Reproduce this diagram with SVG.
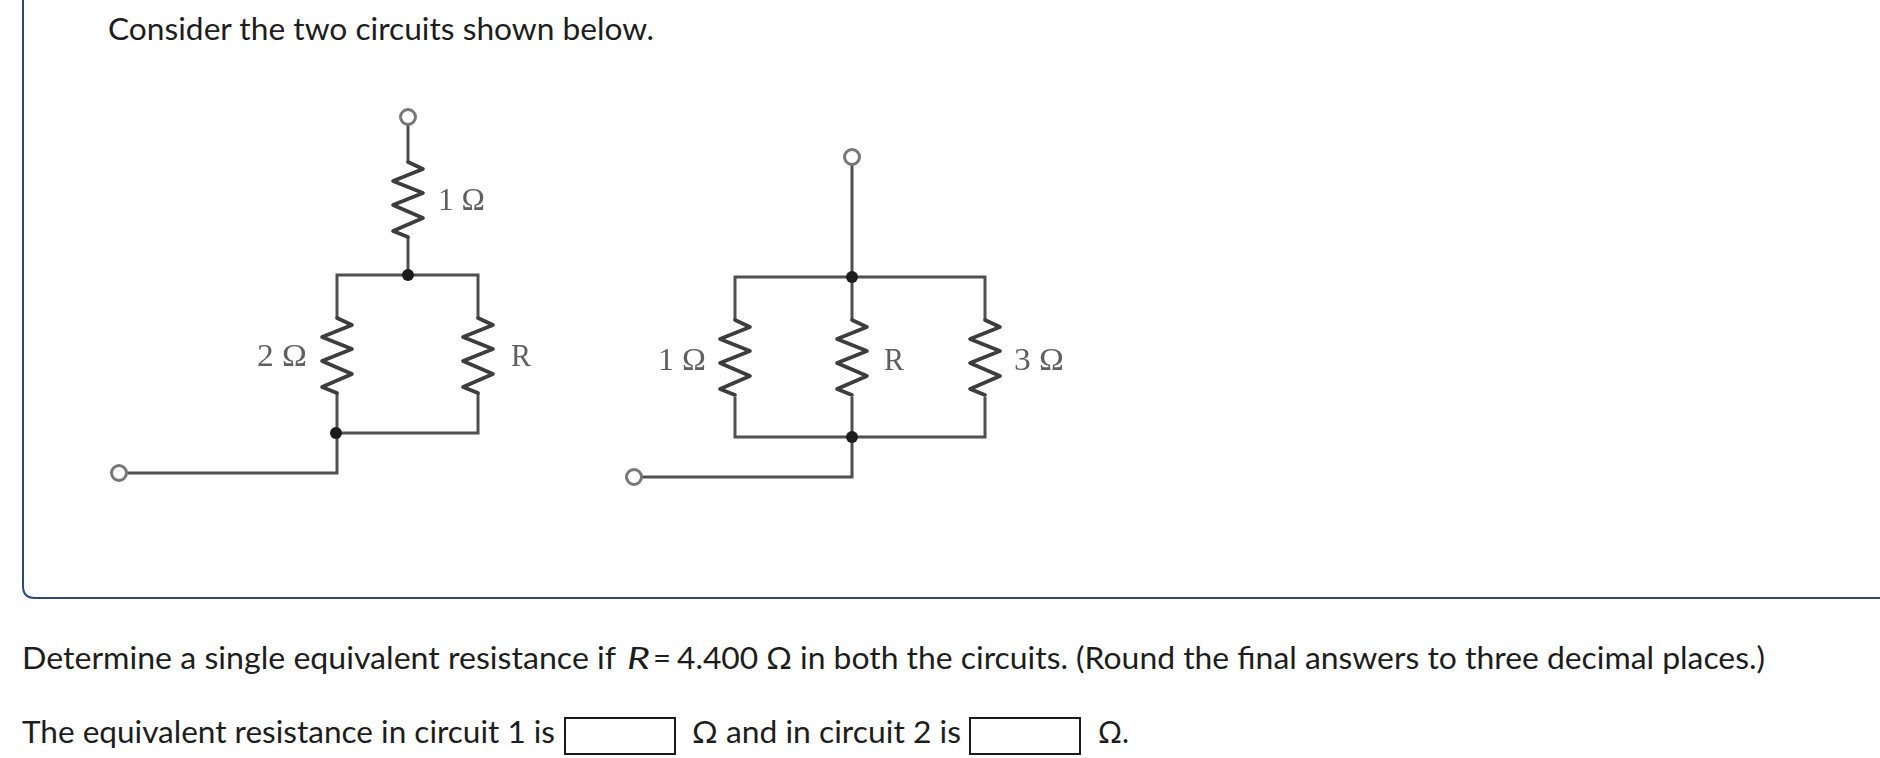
<svg xmlns="http://www.w3.org/2000/svg" width="1880" height="758" viewBox="0 0 1880 758">
<style>
.t{font-family:"Lato","Liberation Sans",sans-serif;font-size:30px;fill:#1d1d1d}
.l{font-family:"Liberation Serif",serif;font-size:31px;fill:#5f5f5f}
.w{fill:none;stroke:#505050;stroke-width:3;stroke-linejoin:miter}
.z{fill:none;stroke:#3c3c3c;stroke-width:3.6;stroke-linejoin:round;stroke-linecap:round}
.term{fill:#fff;stroke:#777;stroke-width:3}
.dot{fill:#1c1c1c}
.box{fill:#fff;stroke:#1a1a1a;stroke-width:2}
</style>
<defs>
<filter id="soft" x="-5%" y="-5%" width="110%" height="110%"><feGaussianBlur stdDeviation="0.6"/></filter>
<path id="res" d="M0 0L15 7L-15 19L15 31L-15 43L15 56L-15 69L0 75"/>
</defs>
<rect width="1880" height="758" fill="#fff"/>
<path d="M23 0V586Q23 598 35 598H1880" fill="none" stroke="#27497f" stroke-width="2"/>
<text class="t" x="108" y="40" textLength="546" lengthAdjust="spacingAndGlyphs">Consider the two circuits shown below.</text>

<g filter="url(#soft)">
<g id="connectors">
<path class="w" d="M408 124V162M408 237V275M337 318V275H478V318M337 393V473H126M478 393V433H337"/>
<path class="w" d="M852 164V320M852 397V477H641M735 320V277H985V320M735 397V437H985V397"/>
</g>
<g id="r1-top"><use class="z" href="#res" x="408" y="162"/><text class="l" x="438" y="210" textLength="47" lengthAdjust="spacingAndGlyphs">1 Ω</text></g>
<g id="r1-left"><use class="z" href="#res" x="337" y="318"/><text class="l" x="257" y="366" textLength="50" lengthAdjust="spacingAndGlyphs">2 Ω</text></g>
<g id="r1-right"><use class="z" href="#res" x="478" y="318"/><text class="l" x="511" y="366" textLength="20" lengthAdjust="spacingAndGlyphs">R</text></g>
<g id="r2-left"><use class="z" href="#res" x="735" y="320"/><text class="l" x="658" y="370" textLength="48" lengthAdjust="spacingAndGlyphs">1 Ω</text></g>
<g id="r2-mid"><use class="z" href="#res" x="852" y="320"/><text class="l" x="884" y="370" textLength="20" lengthAdjust="spacingAndGlyphs">R</text></g>
<g id="r2-right"><use class="z" href="#res" x="985" y="320"/><text class="l" x="1014" y="370" textLength="50" lengthAdjust="spacingAndGlyphs">3 Ω</text></g>
<g id="t1-top"><circle class="term" cx="408" cy="117" r="7.5"/></g>
<g id="t1-bottom"><circle class="term" cx="119" cy="473" r="7.5"/></g>
<g id="t2-top"><circle class="term" cx="852" cy="157" r="7.5"/></g>
<g id="t2-bottom"><circle class="term" cx="634" cy="477" r="7.5"/></g>
<g id="n1-top"><circle class="dot" cx="408" cy="275" r="6"/></g>
<g id="n1-bottom"><circle class="dot" cx="336" cy="433" r="6"/></g>
<g id="n2-top"><circle class="dot" cx="852" cy="277" r="6"/></g>
<g id="n2-bottom"><circle class="dot" cx="852" cy="437" r="6"/></g>
</g>

<text class="t" x="22" y="669" textLength="594" lengthAdjust="spacingAndGlyphs">Determine a single equivalent resistance if</text>
<text class="t" x="627" y="669" font-style="italic" textLength="23" lengthAdjust="spacingAndGlyphs">R</text>
<text class="t" x="653" y="669" textLength="18" lengthAdjust="spacingAndGlyphs">=</text>
<text class="t" x="677" y="669" textLength="115" lengthAdjust="spacingAndGlyphs">4.400 Ω</text>
<text class="t" x="800" y="669" textLength="965" lengthAdjust="spacingAndGlyphs">in both the circuits. (Round the final answers to three decimal places.)</text>

<text class="t" x="22" y="743" textLength="533" lengthAdjust="spacingAndGlyphs">The equivalent resistance in circuit 1 is</text>
<rect class="box" x="565" y="718" width="110" height="36"/>
<text class="t" x="692" y="743" textLength="269" lengthAdjust="spacingAndGlyphs">Ω and in circuit 2 is</text>
<rect class="box" x="970" y="718" width="110" height="36"/>
<text class="t" x="1098" y="743" textLength="31" lengthAdjust="spacingAndGlyphs">Ω.</text>
</svg>
